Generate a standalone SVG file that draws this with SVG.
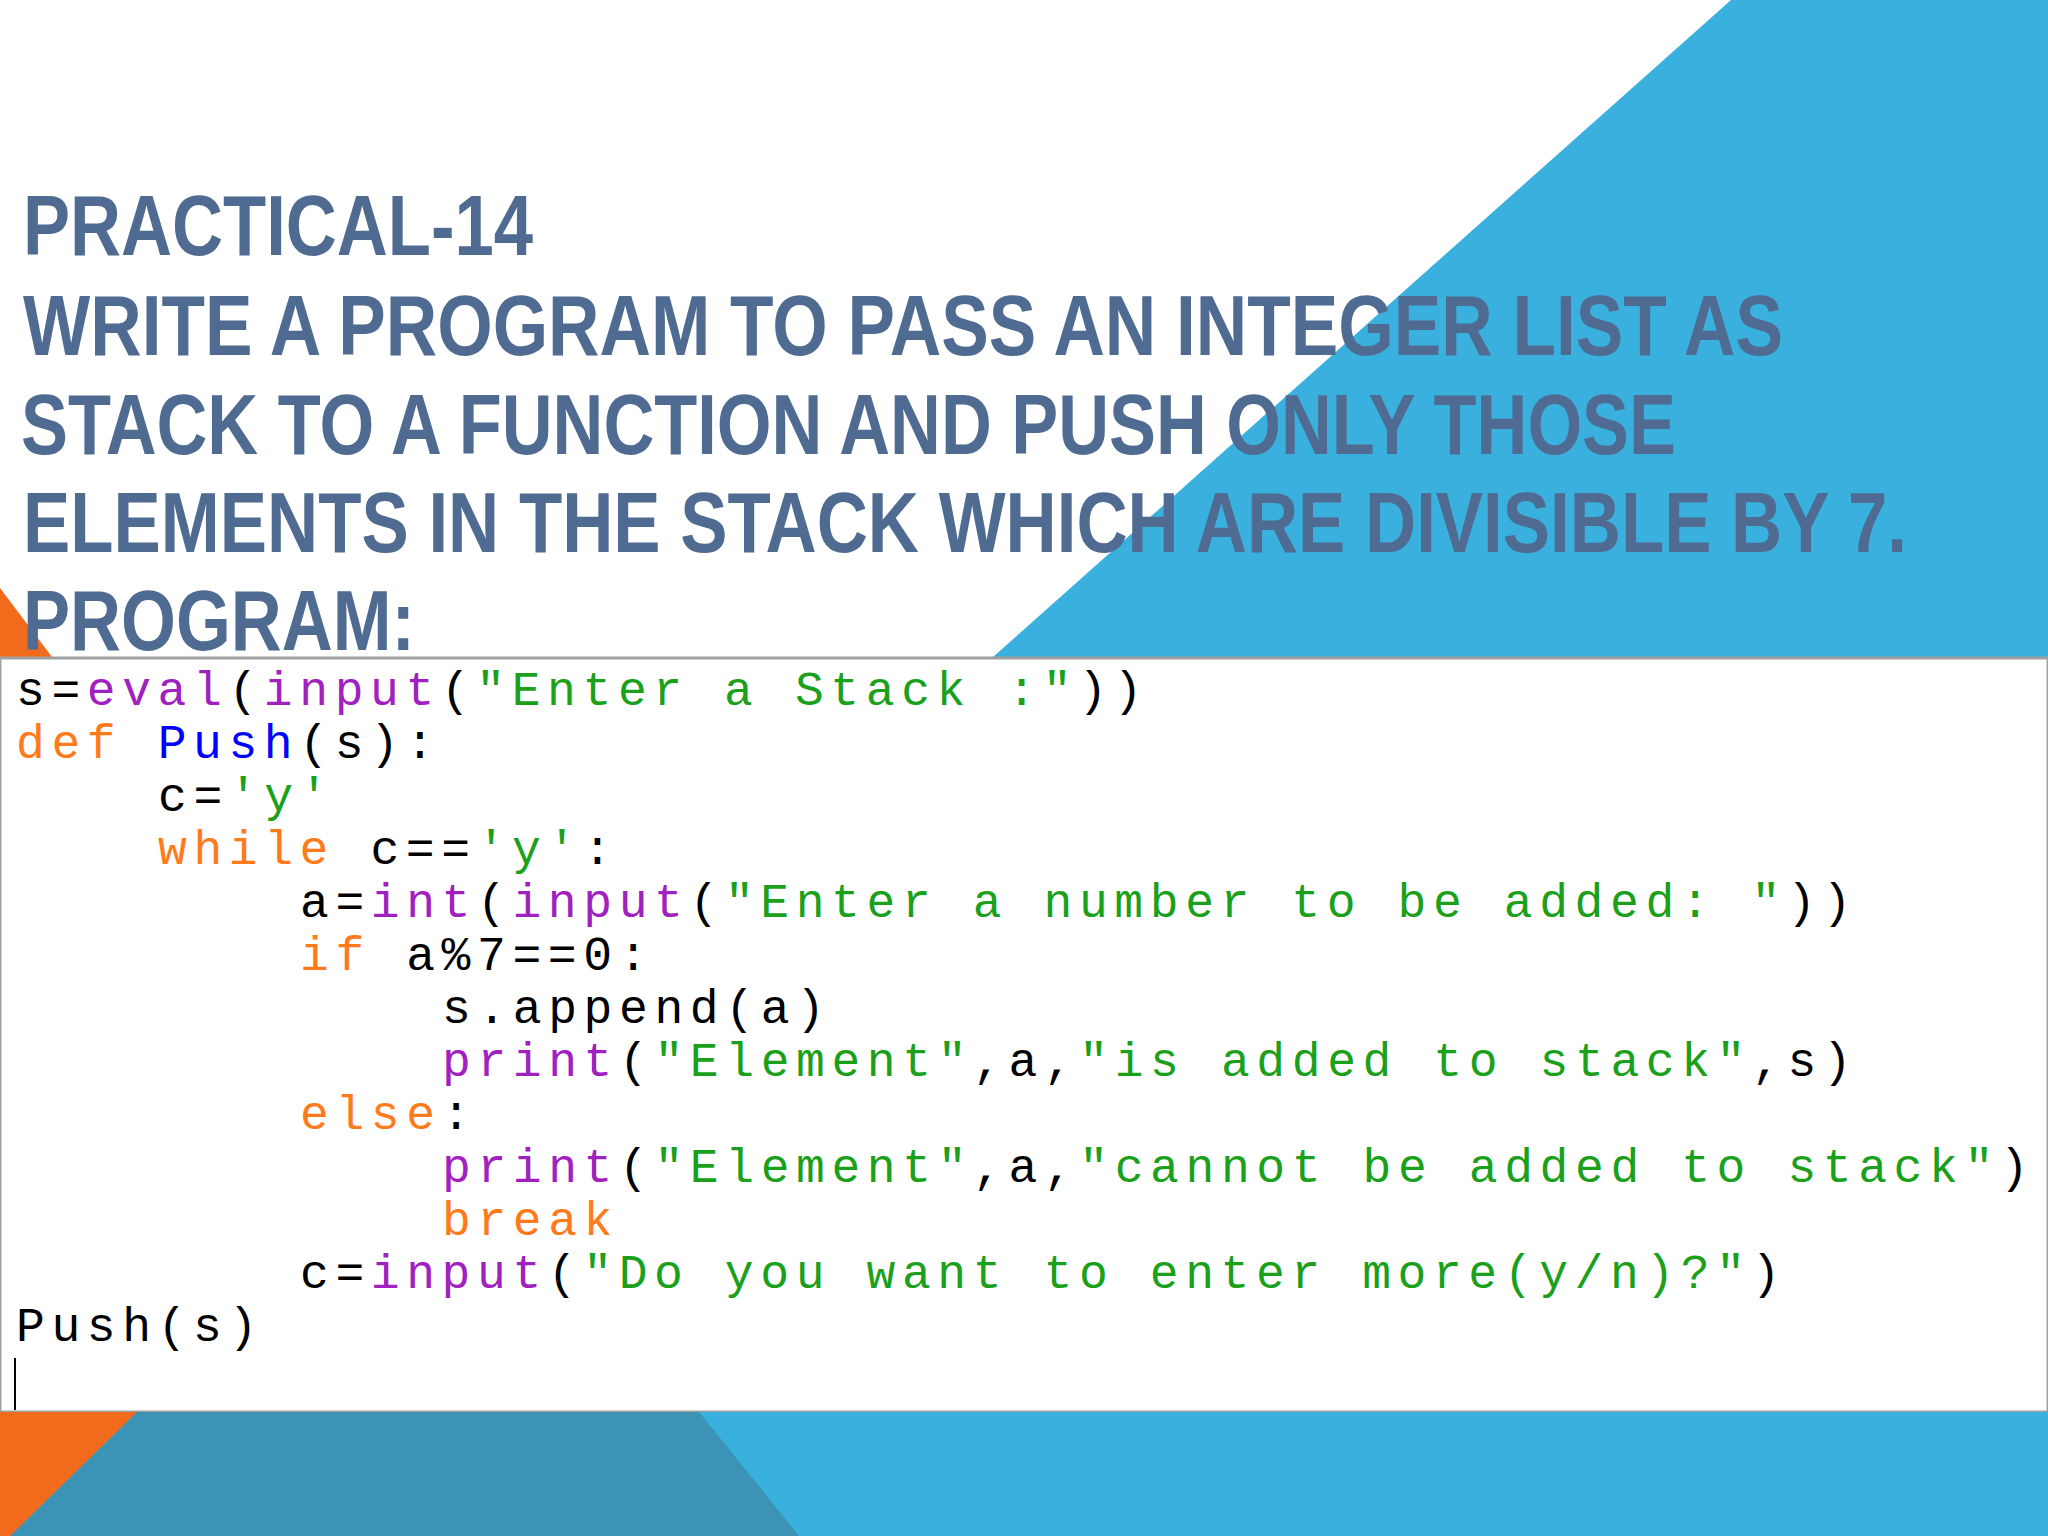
<svg xmlns="http://www.w3.org/2000/svg" width="2048" height="1536" viewBox="0 0 2048 1536">
<style>
.t{font-family:"Liberation Sans",Arial,sans-serif;font-weight:bold;font-size:86px;fill:#4f6b91}
.c{font-family:"Liberation Mono","Courier New",monospace;font-size:48px;letter-spacing:6.6px;fill:#000}
.p{fill:#a020c0}.g{fill:#1aa01a}.o{fill:#ff7a1a}.b{fill:#0000ff}
</style>
<rect width="2048" height="1536" fill="#fff"/>
<polygon points="1731,0 2048,0 2048,657 993,657" fill="#3ab0de"/>
<polygon points="0,588 52,657 0,657" fill="#f26b1d"/>
<g id="title">
<text class="t" x="23" y="255" textLength="510" lengthAdjust="spacingAndGlyphs">PRACTICAL-14</text>
<text class="t" x="23" y="355" textLength="1760" lengthAdjust="spacingAndGlyphs">WRITE A PROGRAM TO PASS AN INTEGER LIST AS</text>
<text class="t" x="21" y="454" textLength="1655" lengthAdjust="spacingAndGlyphs">STACK TO A FUNCTION AND PUSH ONLY THOSE</text>
<text class="t" x="23" y="552" textLength="1884" lengthAdjust="spacingAndGlyphs">ELEMENTS IN THE STACK WHICH ARE DIVISIBLE BY 7.</text>
<text class="t" x="23" y="650" textLength="392" lengthAdjust="spacingAndGlyphs">PROGRAM:</text>
</g>
<g id="code">
<rect x="0" y="658" width="2048" height="754" fill="#fff" stroke="#a0a0a0" stroke-width="3"/>
<g class="c" xml:space="preserve">
<text x="16" y="705">s=<tspan class="p">eval</tspan>(<tspan class="p">input</tspan>(<tspan class="g">"Enter a Stack :"</tspan>))</text>
<text x="16" y="758"><tspan class="o">def</tspan> <tspan class="b">Push</tspan>(s):</text>
<text x="158" y="811">c=<tspan class="g">'y'</tspan></text>
<text x="158" y="864"><tspan class="o">while</tspan> c==<tspan class="g">'y'</tspan>:</text>
<text x="300" y="917">a=<tspan class="p">int</tspan>(<tspan class="p">input</tspan>(<tspan class="g">"Enter a number to be added: "</tspan>))</text>
<text x="300" y="970"><tspan class="o">if</tspan> a%7==0:</text>
<text x="442" y="1023">s.append(a)</text>
<text x="442" y="1076"><tspan class="p">print</tspan>(<tspan class="g">"Element"</tspan>,a,<tspan class="g">"is added to stack"</tspan>,s)</text>
<text x="300" y="1129"><tspan class="o">else</tspan>:</text>
<text x="442" y="1182"><tspan class="p">print</tspan>(<tspan class="g">"Element"</tspan>,a,<tspan class="g">"cannot be added to stack"</tspan>)</text>
<text x="442" y="1235"><tspan class="o">break</tspan></text>
<text x="300" y="1288">c=<tspan class="p">input</tspan>(<tspan class="g">"Do you want to enter more(y/n)?"</tspan>)</text>
<text x="16" y="1341">Push(s)</text>
</g>
<line x1="15" y1="1358" x2="15" y2="1410" stroke="#000" stroke-width="2"/>
</g>
<polygon points="0,1412 2048,1412 2048,1536 0,1536" fill="#3ab0de"/>
<polygon points="137,1412 699,1412 799,1536 10,1536" fill="#3b94b5"/>
<polygon points="0,1412 137,1412 10,1536 0,1536" fill="#f26b1d"/>
</svg>
